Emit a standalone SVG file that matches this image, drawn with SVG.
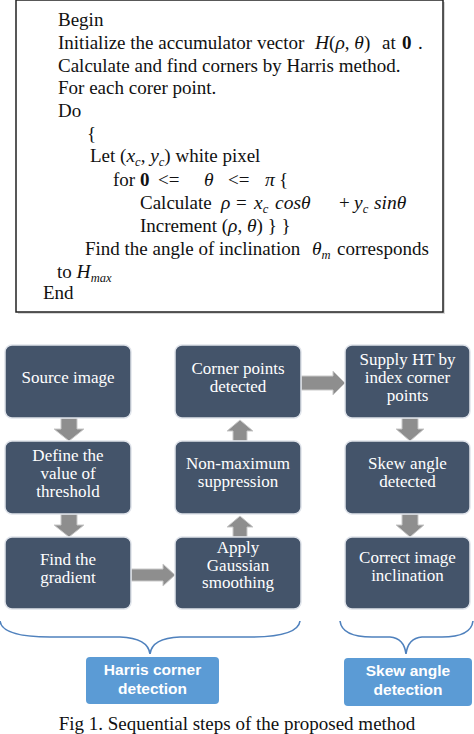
<svg xmlns="http://www.w3.org/2000/svg" width="474" height="734" viewBox="0 0 474 734">
<style>
.t{font-family:"Liberation Serif","Times New Roman",serif;font-size:19px;fill:#111}
.m{font-style:italic;font-size:19.5px}
.s{font-style:italic;font-size:12.5px}
.b{font-weight:bold}
.bt{font-family:"Liberation Serif","Times New Roman",serif;font-size:17px;fill:#fff;text-anchor:middle}
.node{fill:#44546a;stroke:#dfe3ea;stroke-width:1.5}
.arr{fill:#8e8e8e;stroke:#c9c9c9;stroke-width:1}
.brace{fill:none;stroke:#4f81bd;stroke-width:1.6}
.lab{fill:#5b9bd5}
.lt{font-family:"Liberation Sans",Arial,sans-serif;font-size:15.5px;font-weight:bold;fill:#fff;text-anchor:middle}
</style>
<rect width="474" height="734" fill="#fff"/>
<g id="algorithm">
<rect x="18" y="2" width="427" height="312" fill="#d8d8d8"/>
<rect x="16" y="0" width="427" height="312" fill="#fff" stroke="#222" stroke-width="1.5"/>
<text class="t" x="58" y="25.5">Begin</text>
<text class="t" y="49"><tspan x="58">Initialize the accumulator vector</tspan><tspan x="315" class="m">H</tspan><tspan>(</tspan><tspan class="m">ρ</tspan><tspan>, </tspan><tspan class="m">θ</tspan><tspan>)</tspan><tspan x="382">at </tspan><tspan x="402" class="b">0</tspan><tspan x="418">.</tspan></text>
<text class="t" x="58" y="71.5">Calculate and find corners by Harris method.</text>
<text class="t" x="58" y="93.5">For each corer point.</text>
<text class="t" x="58" y="116.5">Do</text>
<text class="t" x="87" y="140">{</text>
<text class="t" y="162"><tspan x="90">Let (</tspan><tspan class="m">x</tspan><tspan class="s" dy="4">c</tspan><tspan dy="-4">, </tspan><tspan class="m">y</tspan><tspan class="s" dy="4">c</tspan><tspan dy="-4">) white pixel</tspan></text>
<text class="t" y="186"><tspan x="113">for </tspan><tspan class="b">0</tspan><tspan x="158">&lt;=</tspan><tspan x="204" class="m">θ</tspan><tspan x="228">&lt;=</tspan><tspan x="265" class="m">π</tspan><tspan x="279">{</tspan></text>
<text class="t" y="209"><tspan x="140">Calculate</tspan><tspan x="221" class="m">ρ</tspan><tspan x="236">=</tspan><tspan x="254" class="m">x</tspan><tspan class="s" dy="4">c</tspan><tspan x="275" dy="-4" class="m">cosθ</tspan><tspan x="339">+</tspan><tspan x="354" class="m">y</tspan><tspan class="s" dy="4">c</tspan><tspan x="374" dy="-4" class="m">sinθ</tspan></text>
<text class="t" y="232"><tspan x="140">Increment (</tspan><tspan class="m">ρ</tspan><tspan>, </tspan><tspan class="m">θ</tspan><tspan>) } }</tspan></text>
<text class="t" y="255"><tspan x="85">Find the angle of inclination</tspan><tspan x="312" class="m">θ</tspan><tspan class="s" dy="4">m</tspan><tspan x="337" dy="-4">corresponds</tspan></text>
<text class="t" y="278"><tspan x="57">to </tspan><tspan class="m">H</tspan><tspan class="s" dy="4">max</tspan></text>
<text class="t" x="43" y="299">End</text>
</g>
<g id="connectors">
<polygon class="arr" points="61,418 77,418 77,429 84,429 69,441 54,429 61,429"/>
<polygon class="arr" points="61,514 77,514 77,525 84,525 69,537 54,525 61,525"/>
<polygon class="arr" points="131,569 163,569 163,564 175,575 163,586 163,581 131,581"/>
<polygon class="arr" points="233,537 247,537 247,527 253,527 240,516 227,527 233,527"/>
<polygon class="arr" points="233,441 247,441 247,431 253,431 240,420 227,431 233,431"/>
<polygon class="arr" points="301,376 333,376 333,371 345,383 333,395 333,390 301,390"/>
<polygon class="arr" points="402,418 418,418 418,429 424,429 410,441 396,429 402,429"/>
<polygon class="arr" points="402,514 418,514 418,525 424,525 410,537 396,525 402,525"/>
</g>
<g id="n-source"><rect class="node" x="5" y="345" width="126" height="73" rx="7"/><text class="bt" x="68" y="383">Source image</text></g>
<g id="n-threshold"><rect class="node" x="5" y="441" width="126" height="73" rx="7"/><text class="bt" x="68" y="461">Define the</text><text class="bt" x="68" y="479">value of</text><text class="bt" x="68" y="497">threshold</text></g>
<g id="n-gradient"><rect class="node" x="5" y="537" width="126" height="72" rx="7"/><text class="bt" x="68" y="565">Find the</text><text class="bt" x="68" y="583">gradient</text></g>
<g id="n-gaussian"><rect class="node" x="175" y="537" width="126" height="72" rx="7"/><text class="bt" x="238" y="553">Apply</text><text class="bt" x="238" y="570.5">Gaussian</text><text class="bt" x="238" y="588">smoothing</text></g>
<g id="n-nonmax"><rect class="node" x="175" y="441" width="126" height="73" rx="7"/><text class="bt" x="238" y="469">Non-maximum</text><text class="bt" x="238" y="487">suppression</text></g>
<g id="n-corner"><rect class="node" x="175" y="345" width="126" height="73" rx="7"/><text class="bt" x="238" y="374">Corner points</text><text class="bt" x="238" y="392">detected</text></g>
<g id="n-supply"><rect class="node" x="345" y="345" width="125" height="73" rx="7"/><text class="bt" x="407.5" y="365">Supply HT by</text><text class="bt" x="407.5" y="383">index corner</text><text class="bt" x="407.5" y="401">points</text></g>
<g id="n-skew"><rect class="node" x="345" y="441" width="125" height="73" rx="7"/><text class="bt" x="407.5" y="469">Skew angle</text><text class="bt" x="407.5" y="487">detected</text></g>
<g id="n-correct"><rect class="node" x="345" y="537" width="125" height="72" rx="7"/><text class="bt" x="407.5" y="563">Correct image</text><text class="bt" x="407.5" y="581">inclination</text></g>
<g id="brace-harris">
<path class="brace" d="M0,621 Q2,637 50,637 L120,637 Q148,638 150,654 Q152,638 180,637 L250,637 Q298,637 300,621"/>
<rect class="lab" x="86" y="657" width="133" height="47" rx="4"/>
<text class="lt" x="152.5" y="675">Harris corner</text>
<text class="lt" x="152.5" y="694">detection</text>
</g>
<g id="brace-skew">
<path class="brace" d="M340,621 Q342,637 372,637 L390,637 Q404,638 406,654 Q408,638 422,637 L442,637 Q471,637 473,621"/>
<rect class="lab" x="344" y="658" width="128" height="48" rx="4"/>
<text class="lt" x="408" y="676">Skew angle</text>
<text class="lt" x="408" y="695">detection</text>
</g>
<text class="t" x="237" y="729.5" font-size="13" text-anchor="middle">Fig 1. Sequential steps of the proposed method</text>
</svg>
